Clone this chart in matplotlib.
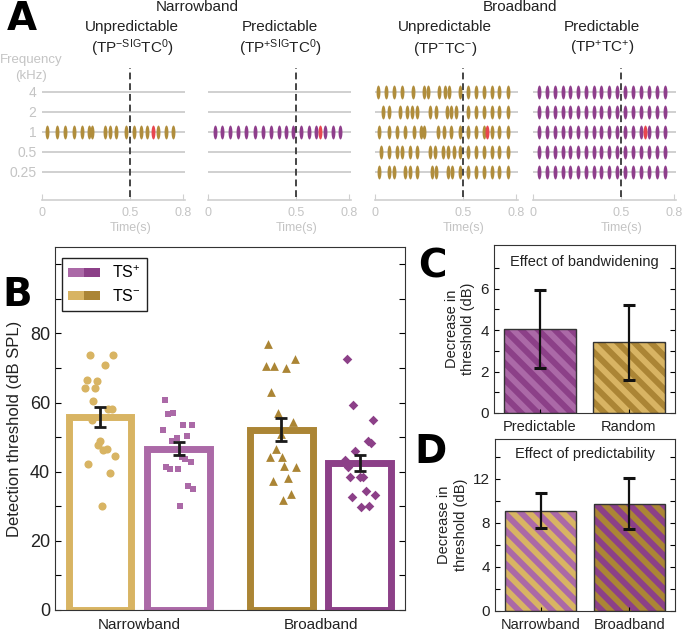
import matplotlib
matplotlib.use("Agg")
import matplotlib.pyplot as plt
import numpy as np
from matplotlib.path import Path
from matplotlib.patches import Patch
from matplotlib.legend_handler import HandlerTuple

plt.rcParams['font.family'] = ['Liberation Sans', 'DejaVu Sans']
plt.rcParams['mathtext.fontset'] = 'custom'
plt.rcParams['mathtext.rm'] = 'Liberation Sans'
plt.rcParams['mathtext.it'] = 'Liberation Sans:italic'
plt.rcParams['mathtext.bf'] = 'Liberation Sans:bold'
plt.rcParams['hatch.linewidth'] = 4.2

# ---- panel A: stimulus sketches ----
freqs = [4, 2, 1, 0.5, 0.25]
freq_labels = ['4', '2', '1', '0.5', '0.25']

nb_unpred_times = [0.028, 0.083, 0.133, 0.180, 0.224, 0.265, 0.283, 0.356, 0.387, 0.420,
                   0.476, 0.519, 0.561, 0.596, 0.657, 0.700, 0.741]
nb_unpred_target = 0.630
nb_pred_times = [0.038, 0.081, 0.126, 0.172, 0.217, 0.264, 0.311, 0.355, 0.402, 0.443,
                 0.481, 0.528, 0.572, 0.613, 0.660, 0.708, 0.749]
nb_pred_target = 0.636

bb_unpred_rows = [
    [0.019, 0.063, 0.110, 0.152, 0.213, 0.276, 0.298, 0.365, 0.394, 0.420, 0.481,
     0.527, 0.572, 0.618, 0.662, 0.705, 0.751],
    [0.048, 0.078, 0.139, 0.181, 0.209, 0.238, 0.314, 0.344, 0.405, 0.432, 0.458,
     0.527, 0.572, 0.618, 0.662, 0.705, 0.751],
    [0.025, 0.078, 0.124, 0.171, 0.222, 0.260, 0.276, 0.356, 0.390, 0.428, 0.481,
     0.527, 0.572, 0.618, 0.662, 0.705, 0.751],
    [0.032, 0.080, 0.124, 0.152, 0.196, 0.238, 0.314, 0.342, 0.386, 0.413, 0.447, 0.481,
     0.527, 0.572, 0.618, 0.662, 0.705, 0.751],
    [0.025, 0.080, 0.105, 0.171, 0.196, 0.238, 0.323, 0.348, 0.413, 0.437, 0.481,
     0.527, 0.572, 0.618, 0.662, 0.705, 0.751],
]
bb_unpred_target = 0.637
bb_pred_times = [0.036, 0.079, 0.123, 0.168, 0.211, 0.255, 0.300, 0.343, 0.387, 0.432,
                 0.475, 0.523, 0.566, 0.611, 0.655, 0.702, 0.745]
bb_pred_target = 0.636

# ---- panel B: detection thresholds ----
conditions = ['Narrowband', 'Broadband']
means_ts_minus = [55.7, 52.2]
sem_ts_minus = [2.9, 3.4]
means_ts_plus = [46.7, 42.5]
sem_ts_plus = [2.0, 2.4]

nb_minus_vals = [73.7, 73.7, 70.8, 66.5, 66.1, 64.1, 64.3, 60.4, 58.2, 58.0, 54.9, 49.0,
                 47.6, 46.2, 46.6, 44.6, 42.3, 39.6, 30.1]
nb_minus_jit = [-0.055, 0.073, 0.029, -0.073, -0.018, -0.083, -0.028, -0.037, 0.046, 0.064,
                -0.046, 0.0, -0.009, 0.018, 0.037, 0.083, -0.064, 0.055, 0.009]
nb_plus_vals = [60.6, 56.7, 57.0, 52.0, 53.4, 53.4, 49.8, 49.0, 50.2, 44.4, 43.7, 42.7,
                41.5, 40.8, 40.9, 36.0, 35.0, 30.2]
nb_plus_jit = [-0.074, -0.056, -0.029, -0.084, 0.026, 0.076, -0.010, -0.037, 0.045, 0.018,
               0.036, 0.067, -0.069, -0.047, -0.001, 0.054, 0.082, 0.008]
bb_minus_vals = [77.0, 70.5, 70.7, 72.7, 70.0, 63.1, 57.0, 54.3, 51.0, 46.6, 44.2, 44.2,
                 41.7, 41.5, 38.3, 37.2, 33.6, 31.9]
bb_minus_jit = [-0.073, -0.083, -0.037, 0.077, 0.028, -0.057, -0.018, 0.064, 0.0, -0.028,
                -0.064, 0.004, 0.018, 0.083, 0.037, -0.046, 0.055, 0.009]
bb_plus_vals = [72.5, 59.4, 54.9, 48.8, 48.3, 45.9, 43.5, 41.5, 38.6, 38.6, 38.6, 34.3,
                33.3, 32.8, 29.9, 30.1]
bb_plus_jit = [-0.073, -0.037, 0.073, 0.046, 0.064, -0.028, -0.083, -0.064, -0.055, 0.0,
               0.018, 0.033, 0.083, -0.046, 0.009, 0.051]

# ---- panels C and D ----
bandwidening_labels = ['Predictable', 'Random']
bandwidening_means = [4.05, 3.40]
bandwidening_err = [1.88, 1.82]
predictability_labels = ['Narrowband', 'Broadband']
predictability_means = [9.1, 9.75]
predictability_err = [1.56, 2.27]

light_gold = '#d8b463'
dark_gold = '#ab8535'
light_purple = '#ab69a7'
dark_purple = '#8c4088'
pip_gold = '#b08d3c'
pip_purple = '#8f3f8c'
target_red = '#e8464f'
grey_txt = '#c4c4c4'
ink = '#222222'

W, H = 685, 632
fig = plt.figure(figsize=(W / 100, H / 100), dpi=100)


def rect(l, t, r, b):
    return [l / W, 1 - b / H, (r - l) / W, (b - t) / H]


def ftext(x, y, s, **kw):
    fig.text(x / W, 1 - y / H, s, **kw)


theta = np.linspace(0, 2 * np.pi, 60)
pip_marker = Path(np.column_stack([0.28 * np.sin(theta), np.cos(theta)]))

# panel A
a_lefts = [42, 208, 375, 533]
a_width = 143
axes_a = []
for left in a_lefts:
    ax = fig.add_axes(rect(left, 68, left + a_width, 200))
    ax.set_yscale('log', base=2)
    ax.set_ylim(0.0947, 9.19)
    ax.set_xlim(0, 0.81)
    for f in freqs:
        ax.axhline(f, color='#c8c8c8', lw=1.2, zorder=1)
    ax.axvline(0.5, ymin=0.02, ymax=1, color='#444444', ls=(0, (3.5, 2)), lw=1.4, zorder=3)
    for side in ['top', 'right', 'left']:
        ax.spines[side].set_visible(False)
    ax.spines['bottom'].set_color('#d0d0d0')
    ax.spines['bottom'].set_linewidth(1.2)
    ax.set_xticks([0, 0.5, 0.8])
    ax.set_xticklabels(['0', '0.5', '0.8'])
    ax.tick_params(axis='x', direction='in', length=4, color='#d0d0d0', labelcolor=grey_txt,
                   labelsize=9, pad=5)
    ax.set_yticks(freqs)
    ax.set_yticks([], minor=True)
    ax.set_yticklabels(freq_labels)
    ax.tick_params(axis='y', length=0, labelcolor=grey_txt, labelsize=10, pad=4)
    ax.set_xlabel('Time(s)', color=grey_txt, fontsize=9, labelpad=2, x=0.5 / 0.81)
    axes_a.append(ax)
for ax in axes_a[1:]:
    ax.set_yticklabels([])

pip_size = 100
ax = axes_a[0]
ax.scatter(nb_unpred_times, [1] * len(nb_unpred_times), marker=pip_marker, s=pip_size,
           color=pip_gold, linewidths=0, zorder=2)
ax.scatter([nb_unpred_target], [1], marker=pip_marker, s=pip_size, color=target_red,
           linewidths=0, zorder=2)
ax = axes_a[1]
ax.scatter(nb_pred_times, [1] * len(nb_pred_times), marker=pip_marker, s=pip_size,
           color=pip_purple, linewidths=0, zorder=2)
ax.scatter([nb_pred_target], [1], marker=pip_marker, s=pip_size, color=target_red,
           linewidths=0, zorder=2)
ax = axes_a[2]
for f, row in zip(freqs, bb_unpred_rows):
    ax.scatter(row, [f] * len(row), marker=pip_marker, s=pip_size, color=pip_gold,
               linewidths=0, zorder=2)
ax.scatter([bb_unpred_target], [1], marker=pip_marker, s=pip_size, color=target_red,
           linewidths=0, zorder=2)
ax = axes_a[3]
for f in freqs:
    ax.scatter(bb_pred_times, [f] * len(bb_pred_times), marker=pip_marker, s=pip_size,
               color=pip_purple, linewidths=0, zorder=2)
ax.scatter([bb_pred_target], [1], marker=pip_marker, s=pip_size, color=target_red,
           linewidths=0, zorder=2)

ftext(31, 68, 'Frequency\n(kHz)', color=grey_txt, fontsize=9.5, ha='center', va='center',
      linespacing=1.35)
ftext(197, 7, 'Narrowband', fontsize=11, ha='center', va='center', color=ink)
ftext(520, 7, 'Broadband', fontsize=11, ha='center', va='center', color=ink)
subtitles = [('Unpredictable', r'(TP$^{\mathrm{-SIG}}$TC$^{\mathrm{0}}$)', 132),
             ('Predictable', r'(TP$^{\mathrm{+SIG}}$TC$^{\mathrm{0}}$)', 280),
             ('Unpredictable', r'(TP$^{\mathrm{-}}$TC$^{\mathrm{-}}$)', 445),
             ('Predictable', r'(TP$^{\mathrm{+}}$TC$^{\mathrm{+}}$)', 602)]
for top, bottom, xc in subtitles:
    ftext(xc, 27, top, fontsize=11, ha='center', va='center', color=ink)
    ftext(xc, 53, bottom, fontsize=11, ha='center', va='baseline', color=ink)

label_font = dict(fontsize=28, fontweight='bold', family=['Liberation Sans Narrow', 'DejaVu Sans'],
                  color='black', va='top', ha='left')
ftext(7, 0, 'A', **label_font)
ftext(2, 276, 'B', **label_font)
ftext(418, 248, 'C', **label_font)
ftext(414, 433, 'D', **label_font)

# panel B
ax_b = fig.add_axes(rect(55, 247, 405, 610))
x = np.arange(len(conditions)) + 1
offset = 0.217
bar_w = 0.347
ax_b.bar(x - offset, means_ts_minus, width=bar_w, facecolor='white',
         edgecolor=[light_gold, dark_gold], linewidth=5, zorder=1)
ax_b.bar(x + offset, means_ts_plus, width=bar_w, facecolor='white',
         edgecolor=[light_purple, dark_purple], linewidth=5, zorder=1)
ax_b.scatter(1 - offset + np.array(nb_minus_jit), nb_minus_vals, marker='o', s=34,
             color=light_gold, linewidths=0, zorder=2)
ax_b.scatter(1 + offset + np.array(nb_plus_jit), nb_plus_vals, marker='s', s=22,
             color=light_purple, linewidths=0, zorder=2)
ax_b.scatter(2 - offset + np.array(bb_minus_jit), bb_minus_vals, marker='^', s=40,
             color=dark_gold, linewidths=0, zorder=2)
ax_b.scatter(2 + offset + np.array(bb_plus_jit), bb_plus_vals, marker='D', s=24,
             color=dark_purple, linewidths=0, zorder=2)
ax_b.errorbar(x - offset, means_ts_minus, yerr=sem_ts_minus, fmt='none', ecolor='#1a1a1a',
              elinewidth=2, capsize=4, capthick=2, zorder=3)
ax_b.errorbar(x + offset, means_ts_plus, yerr=sem_ts_plus, fmt='none', ecolor='#1a1a1a',
              elinewidth=2, capsize=4, capthick=2, zorder=3)
ax_b.set_xlim(0.535, 2.466)
ax_b.set_ylim(0, 105)
ax_b.set_xticks(x)
ax_b.set_xticklabels(conditions, fontsize=11, color=ink)
ax_b.set_yticks([0, 20, 40, 60, 80])
ax_b.set_yticks([10, 30, 50, 70, 90, 100], minor=True)
ax_b.tick_params(axis='y', which='both', direction='in', length=4, right=True, labelsize=13,
                 labelcolor=ink, width=0.8)
ax_b.tick_params(axis='x', length=0, pad=6)
ax_b.set_ylabel('Detection threshold (dB SPL)', fontsize=12, color=ink, labelpad=6)
for sp in ax_b.spines.values():
    sp.set_color('#333333')
handles = [(Patch(facecolor=light_purple), Patch(facecolor=dark_purple)),
           (Patch(facecolor=light_gold), Patch(facecolor=dark_gold))]
leg = ax_b.legend(handles, ['TS$^{+}$', 'TS$^{-}$'], handler_map={tuple: HandlerTuple(ndivide=None, pad=0)},
                  loc='upper left', bbox_to_anchor=(7 / 350, 1 - 11 / 363), borderaxespad=0,
                  fontsize=11.5, handlelength=2.0, handleheight=0.55, labelspacing=0.45,
                  borderpad=0.4, handletextpad=0.7, fancybox=False, framealpha=1,
                  edgecolor='#222222')
leg.get_frame().set_linewidth(1.0)


def striped_panel(ax, labels, means, errs, bases, stripes, ylim, major, minor, title, title_y):
    xs = np.arange(len(labels)) + 1
    ax.bar(xs, means, width=0.8, color=bases, edgecolor=stripes, linewidth=0, hatch='\\\\',
           zorder=1)
    ax.bar(xs, means, width=0.8, fill=False, edgecolor='#333333', linewidth=1, zorder=2)
    ax.errorbar(xs, means, yerr=errs, fmt='none', ecolor='#111111', elinewidth=1.6,
                capsize=4, capthick=2.2, zorder=3)
    ax.set_xlim(0.483, 2.517)
    ax.set_ylim(*ylim)
    ax.set_xticks(xs)
    ax.set_xticklabels(labels, fontsize=10.5, color=ink)
    ax.set_yticks(major)
    ax.set_yticks(minor, minor=True)
    ax.tick_params(axis='y', which='both', direction='in', length=3.5, right=True,
                   labelsize=11, labelcolor=ink, width=0.8)
    ax.tick_params(axis='x', direction='in', length=3, pad=5)
    ax.set_ylabel('Decrease in\nthreshold (dB)', fontsize=10.5, color=ink, labelpad=4)
    ax.text(0.5, title_y, title, transform=ax.transAxes, ha='center', va='center',
            fontsize=10.5, color=ink)
    for sp in ax.spines.values():
        sp.set_color('#333333')


ax_c = fig.add_axes(rect(494, 245, 675, 413))
striped_panel(ax_c, bandwidening_labels, bandwidening_means, bandwidening_err,
              [dark_purple, dark_gold], [light_purple, light_gold], (0, 8.1),
              [0, 2, 4, 6], [1, 3, 5, 7], 'Effect of bandwidening', 0.9)

ax_d = fig.add_axes(rect(495, 439, 675, 611))
striped_panel(ax_d, predictability_labels, predictability_means, predictability_err,
              [light_purple, dark_purple], [light_gold, dark_gold], (0, 15.6),
              [0, 4, 8, 12], [2, 6, 10, 14], 'Effect of predictability', 0.913)

fig.savefig('out.png', dpi=100)
